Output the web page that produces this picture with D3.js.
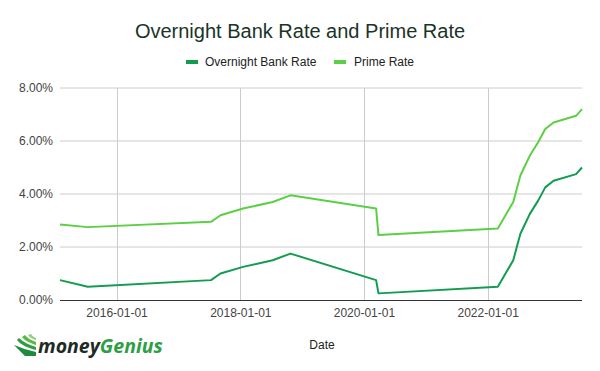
<!DOCTYPE html>
<html><head><meta charset="utf-8">
<script src="https://cdn.jsdelivr.net/npm/d3@7"></script>
<style>body{margin:0;background:#fff}svg{display:block}text{font-family:"Liberation Sans",Arial,sans-serif}</style>
</head><body><svg id="c" width="600" height="371"></svg>
<script>
const dates = ["2015-02-01","2015-07-15","2017-07-12","2017-09-06","2018-01-17","2018-07-11","2018-10-24","2020-03-13","2020-03-27","2022-03-02","2022-06-01","2022-07-13","2022-09-07","2022-10-26","2022-12-07","2023-01-25","2023-06-07","2023-07-12"];
const overnight = [0.75,0.50,0.75,1.00,1.25,1.50,1.75,0.75,0.25,0.50,1.50,2.50,3.25,3.75,4.25,4.50,4.75,5.00];
const prime = [2.85,2.75,2.95,3.20,3.45,3.70,3.95,3.45,2.45,2.70,3.70,4.70,5.45,5.95,6.45,6.70,6.95,7.20];
const yTicks = [0,2,4,6,8];
const xTicks = ["2016-01-01","2018-01-01","2020-01-01","2022-01-01"];
const seriesNames = ["Overnight Bank Rate","Prime Rate"];
const colors = ["#129c50","#5ccf45"];

const svg = d3.select("#c");
const parse = d3.timeParse("%Y-%m-%d");
const L=60,R=582,T=88,B=300;
const x = d3.scaleTime().domain([parse(dates[0]), parse(dates[dates.length-1])]).range([L,R]);
const y = d3.scaleLinear().domain([0,8]).range([B,T]);

// grid
svg.append("g").selectAll("line.h").data(yTicks.filter(d=>d>0)).join("line")
  .attr("x1",L).attr("x2",R).attr("y1",d=>y(d)).attr("y2",d=>y(d)).attr("stroke","#cccccc").attr("stroke-width",1);
svg.append("g").selectAll("line.v").data(xTicks).join("line")
  .attr("x1",d=>Math.round(x(parse(d)))+0.5).attr("x2",d=>Math.round(x(parse(d)))+0.5).attr("y1",T).attr("y2",B).attr("stroke","#cccccc").attr("stroke-width",1);

// y axis labels
const ya = svg.append("g").attr("transform",`translate(${L},0)`)
  .call(d3.axisLeft(y).tickValues(yTicks).tickSize(0).tickPadding(7).tickFormat(d=>d3.format(".2f")(d)+"%"));
ya.select(".domain").remove();
ya.selectAll("text").attr("font-size",12).attr("fill","#444").style("font-family","Liberation Sans, Arial, sans-serif");

// x axis
const xa = svg.append("g").attr("transform",`translate(0,${B})`)
  .call(d3.axisBottom(x).tickValues(xTicks.map(parse)).tickSize(0).tickPadding(8).tickFormat(d3.timeFormat("%Y-%m-%d")));
xa.select(".domain").remove();
xa.selectAll("text").attr("font-size",12).attr("fill","#444").style("font-family","Liberation Sans, Arial, sans-serif");
svg.append("line").attr("x1",L).attr("x2",R).attr("y1",B+0.5).attr("y2",B+0.5).attr("stroke","#333").attr("stroke-width",1);

// lines
const line = vals => d3.line().x((d,i)=>x(parse(dates[i]))).y(d=>y(d))(vals);
[overnight,prime].forEach((vals,k)=>{
  svg.append("path").attr("d",line(vals)).attr("fill","none").attr("stroke",colors[k]).attr("stroke-width",2).attr("stroke-linejoin","round");
});

// title
svg.append("text").attr("x",300).attr("y",38).attr("text-anchor","middle").attr("font-size",20).attr("fill","#1b3328").text("Overnight Bank Rate and Prime Rate");

// legend
const leg = [[186,205],[334,354]];
seriesNames.forEach((n,k)=>{
  svg.append("rect").attr("x",leg[k][0]).attr("y",60).attr("width",12).attr("height",4).attr("fill",colors[k]);
  svg.append("text").attr("x",leg[k][1]).attr("y",66).attr("font-size",12).attr("fill","#222").text(n);
});

// axis title
svg.append("text").attr("x",322).attr("y",349).attr("text-anchor","middle").attr("font-size",12).attr("fill","#222").text("Date");

// logo
const lg = svg.append("g");
lg.append("path").attr("d","M14,345 L25,356 L36,356 L36,352 C28,350 21,348 14,345 Z").attr("fill","#1f8a3c");
lg.append("path").attr("d","M17,340 C21,345 28,348 36,350 L36,347 C29,345 23,342 19,338 Z").attr("fill","#2e9e44");
lg.append("path").attr("d","M22,337 C25,341 30,343 36,345 L36,342 C31,340 27,338 25,335 Z").attr("fill","#58b947");
lg.append("path").attr("d","M28,335 C30,338 33,339 36,340 L36,338 C34,337 32,336 31,334 Z").attr("fill","#8fd07a");
const lt = lg.append("text").attr("x",38).attr("y",353).attr("font-size",19.5).attr("font-weight","bold").attr("font-style","italic").style("font-family","Open Sans, sans-serif");
lt.append("tspan").attr("fill","#1e2a24").text("money");
lt.append("tspan").attr("fill","#2e9e44").text("Genius");
</script></body></html>
